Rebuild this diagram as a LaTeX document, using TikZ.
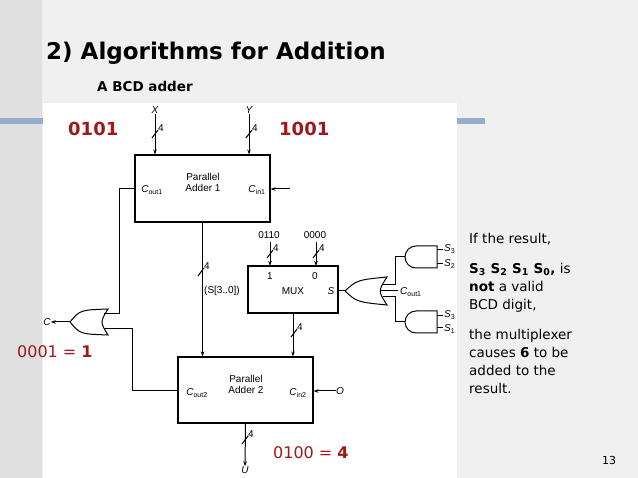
\documentclass[tikz,border=0pt]{standalone}
\usepackage{fontspec}
\setmainfont{DejaVu Sans}
\newfontfamily\cfont{Liberation Sans}
\usetikzlibrary{arrows.meta}
\definecolor{darkred}{HTML}{A01818}
\definecolor{bandblue}{HTML}{94AECB}
\definecolor{slidegray}{HTML}{F0F0F0}
\tikzset{
  wire/.style={line width=1pt},
  sig/.style={wire, -{Stealth[length=5pt,width=3.5pt]}},
  block/.style={draw, line width=1.1pt},
  clabel/.style={font=\cfont\fontsize{10}{11}\selectfont, inner sep=0pt},
  redtxt/.style={text=darkred, inner sep=0pt},
}
% bus mark: slash plus width label
\newcommand{\busmark}[3]{%
  \draw[wire] (#1-3,#2+4) -- (#1+3,#2-4);
  \node[clabel, anchor=west] at (#1+3,#2-6) {#3};}
\newcommand{\csub}[2]{\textit{#1}\textsubscript{#2}}
\begin{document}
\begin{tikzpicture}[x=1pt,y=-1pt]
        % Background
        \fill[slidegray] (0,0) rectangle (638,478);
        \fill[black!12] (0,0) rectangle (42,478);
        \fill[bandblue] (0,118) rectangle (485,124);
        \fill[white] (43,103) rectangle (457,478);
        \useasboundingbox (0,0) rectangle (638,478);

        % Titles
        \node[anchor=base west, inner sep=0pt, font=\bfseries\fontsize{23}{26}\selectfont] (title) at (46,60) {2) Algorithms for Addition};
        \node[anchor=base west, inner sep=0pt, font=\bfseries\fontsize{13.5}{15}\selectfont] (sub) at (97,92) {A BCD adder};

        % Adders and mux
        \node[block, minimum width=135pt, minimum height=67pt] (add1) at (202.5,188.5) {};
        \node[clabel, align=center] at (203,182) {Parallel\\Adder 1};
        \node[clabel] at (152,190) {\csub{C}{out1}};
        \node[clabel] at (257,190) {\csub{C}{in1}};
        \node[block, minimum width=135pt, minimum height=66pt] (add2) at (245.5,390) {};
        \node[clabel, align=center] at (246,384) {Parallel\\Adder 2};
        \node[clabel] at (197,393) {\csub{C}{out2}};
        \node[clabel] at (298,393) {\csub{C}{in2}};
        \node[block, minimum width=90pt, minimum height=47pt] (mux) at (293,289.5) {};
        \node[clabel] at (270,276) {1};
        \node[clabel] at (315,276) {0};
        \node[clabel] at (293,291) {MUX};
        \node[clabel] at (331,291) {\itshape S};

        % Inputs X, Y
        \node[clabel] (x) at (155,110) {\itshape X};
        \node[clabel] (y) at (249,110) {\itshape Y};
        \draw[sig] (x) -- (x |- add1.north);
        \draw[sig] (y) -- (y |- add1.north);
        \busmark{155}{134}{4}
        \busmark{249}{134}{4}
        \coordinate (cin1) at (290,189);
        \draw[sig] (cin1) -- (add1.east |- cin1);

        % Mux inputs
        \node[clabel] (k6) at (269,235) {0110};
        \node[clabel] (k0) at (315,235) {0000};
        \draw[sig] (270,242) -- (270,266);
        \draw[sig] (316,242) -- (316,266);
        \busmark{270}{254}{4}
        \busmark{316}{254}{4}

        % Sum bus and mux output
        \draw[sig] (add1.south) -- (add1.south |- add2.north);
        \busmark{201}{272}{4}
        \node[clabel, anchor=west] at (204,291) {(S[3..0])};
        \draw[sig] (mux.south) -- (mux.south |- add2.north);
        \busmark{294}{333}{4}

        % Output U and carry O
        \node[clabel] (u) at (245,470) {\itshape U};
        \draw[sig] (add2.south) -- (u);
        \busmark{245}{440}{4}
        \node[clabel] (o) at (340,391) {\itshape O};
        \draw[sig] (o) -- (add2.east |- o);

        % Big OR gate feeding mux
        \draw[wire] (345,291) .. controls (357,280) .. (387,277) .. controls (378,291) .. (387,305) .. controls (357,302) .. (345,291);
        \draw[wire] (mux.east |- 0,291) -- (345,291);
        \draw[wire] (383,285) -- (395,285) -- (395,257) -- (405,257);
        \draw[wire] (381,291) -- (398,291);
        \node[clabel, anchor=west] at (400,292) {\csub{C}{out1}};
        \draw[wire] (383,297) -- (395,297) -- (395,322) -- (405,322);

        % AND gates
        \draw[wire] (437,246) -- (416,246) arc[start angle=270, end angle=90, radius=11] -- (437,268) -- cycle;
        \draw[wire] (437,311) -- (416,311) arc[start angle=270, end angle=90, radius=11] -- (437,333) -- cycle;
        \draw[wire] (437,250) -- (443,250) (437,264) -- (443,264) (437,316) -- (443,316) (437,328) -- (443,328);
        \node[clabel, anchor=west] at (444,249) {\csub{S}{3}};
        \node[clabel, anchor=west] at (444,264) {\csub{S}{2}};
        \node[clabel, anchor=west] at (444,315) {\csub{S}{3}};
        \node[clabel, anchor=west] at (444,329) {\csub{S}{1}};

        % Small OR gate for C
        \draw[wire] (70,322) .. controls (80,310) .. (108,309) .. controls (100,322) .. (108,335) .. controls (80,334) .. (70,322);
        \node[clabel] (c) at (47,322) {\itshape C};
        \draw[sig] (70,322) -- (c);
        \draw[wire] (add1.west |- 0,189) -- (119,189) -- (119,314) -- (104,314);
        \draw[wire] (104,329) -- (132,329) -- (132,391) -- (add2.west |- 0,391);

        % Red values
        \node[redtxt, anchor=base west, font=\bfseries\fontsize{18}{20}\selectfont] at (68,136) {0101};
        \node[redtxt, anchor=base west, font=\bfseries\fontsize{18}{20}\selectfont] at (279,136) {1001};
        \node[redtxt, anchor=base west, font=\fontsize{16}{18}\selectfont] at (17,358) {0001 = \textbf{1}};
        \node[redtxt, anchor=base west, font=\fontsize{16}{18}\selectfont] at (273,459) {0100 = \textbf{4}};

        % Side note
        \node[anchor=north west, inner sep=0pt, align=left, font=\fontsize{13.5}{18}\selectfont] (note) at (469,233) {If the result,\\[12pt]
          \textbf{S\textsubscript{3} S\textsubscript{2} S\textsubscript{1} S\textsubscript{0},} is\\
          \textbf{not} a valid\\
          BCD digit,\\[12pt]
          the multiplexer\\
          causes \textbf{6} to be\\
          added to the\\
          result.};
        \node[anchor=base, inner sep=0pt, font=\fontsize{11}{12}\selectfont] at (609,465) {13};
\end{tikzpicture}
\end{document}
